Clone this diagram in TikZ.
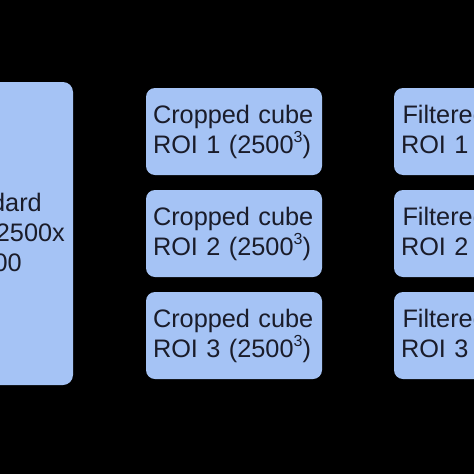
\documentclass[tikz,border=0pt]{standalone}
\usepackage{fontspec}
\setmainfont{Liberation Sans}
\definecolor{boxblue}{HTML}{A5C3F5}
\definecolor{ink}{HTML}{1A1C2A}
\newcommand{\cubed}{\raisebox{0.42em}{\fontsize{16}{16}\selectfont 3}}
\tikzset{
  roibox/.style={fill=boxblue, draw=none, rounded corners=9pt, minimum width=176pt, minimum height=87pt,
    text width=162pt, inner xsep=7pt, align=left, text=ink, font=\fontsize{25.3}{30}\selectfont},
  bigbox/.style={fill=boxblue, draw=none, rounded corners=10pt, minimum width=200pt, minimum height=303pt},
  bigtext/.style={text=ink, font=\fontsize{25.3}{30}\selectfont, inner sep=0pt}
}
\begin{document}
\begin{tikzpicture}[x=1pt,y=-1pt]
\fill[black] (0,0) rectangle (474,474);
\useasboundingbox (0,0) rectangle (474,474);
\clip (0,0) rectangle (474,474);
\node[bigbox] (src) at (-27,233.5) {};
\node[bigtext, anchor=base east] (srcA) at (42,211) {Standard};
\node[bigtext, anchor=base east] (srcB) at (65,241) {2500x};
\node[bigtext, anchor=base east] (srcC) at (22,271) {2500};
\node[roibox] (c1) at (234,131.5) {Cropped cube\\ROI 1 (2500\cubed)};
\node[roibox] (c2) at (234,233.5) {Cropped cube\\ROI 2 (2500\cubed)};
\node[roibox] (c3) at (234,335.5) {Cropped cube\\ROI 3 (2500\cubed)};
\node[roibox] (f1) at (482,131.5) {\hspace{1.5pt}Filtered cube\\ROI 1 (2500\cubed)};
\node[roibox] (f2) at (482,233.5) {\hspace{1.5pt}Filtered cube\\ROI 2 (2500\cubed)};
\node[roibox] (f3) at (482,335.5) {\hspace{1.5pt}Filtered cube\\ROI 3 (2500\cubed)};
\end{tikzpicture}
\end{document}
